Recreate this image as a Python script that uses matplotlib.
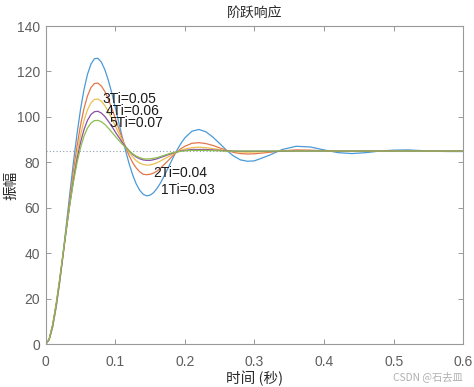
import numpy as np
import matplotlib
matplotlib.use('Agg')
import matplotlib.pyplot as plt

plt.rcParams['font.family'] = ['Liberation Sans', 'Noto Sans CJK SC', 'DejaVu Sans']

# sample times (s)
t = np.round(np.concatenate([np.arange(0, 0.2001, 0.005),
                             np.arange(0.21, 0.3001, 0.01),
                             np.arange(0.32, 0.6001, 0.02)]), 3)

# step responses
y_ti003 = [0, 2.0, 7.6, 16.3, 27.3, 40.0, 53.5, 67.2, 80.4, 92.5, 103.2, 112.0, 118.7, 123.2,
           125.6, 125.8, 124.1, 120.8, 116.1, 110.5, 104.2, 97.6, 91.1, 84.9, 79.3, 74.5, 70.6,
           67.8, 66.0, 65.3, 65.6, 66.7, 68.6, 71.0, 73.9, 77.0, 80.2, 83.3, 86.1, 88.7, 90.8,
           93.7, 94.5, 93.5, 91.2, 88.3, 85.3, 82.8, 81.1, 80.5, 80.7,
           83.0, 85.7, 87.1, 86.8, 85.5, 84.3, 83.9, 84.3, 85.0, 85.4, 85.5, 85.2, 84.9, 84.8, 84.8]
y_ti004 = [0, 2.1, 7.8, 16.5, 27.2, 39.3, 52.0, 64.5, 76.4, 87.1, 96.3, 103.7, 109.2, 112.9,
           114.7, 114.9, 113.6, 111.2, 107.8, 103.8, 99.4, 94.9, 90.6, 86.5, 82.9, 79.9, 77.6,
           75.9, 74.8, 74.6, 74.8, 75.3, 76.2, 77.5, 79.0, 80.5, 82.1, 83.6, 85.0, 86.2, 87.1,
           88.4, 88.7, 88.3, 87.5, 86.4, 85.3, 84.4, 83.9, 83.7, 83.8,
           84.4, 85.1, 85.5, 85.4, 85.1, 84.9, 84.9, 85.0, 85.0, 85.0, 85.0, 85.0, 85.0, 85.0, 85.0]
y_ti005 = [0, 2.2, 8.1, 16.8, 27.5, 39.3, 51.4, 63.1, 74.1, 83.8, 91.9, 98.4, 103.1, 106.2,
           107.7, 107.9, 106.9, 105.0, 102.4, 99.3, 96.1, 92.8, 89.7, 86.9, 84.4, 82.4, 80.8,
           79.7, 79.1, 78.8, 78.9, 79.3, 79.9, 80.6, 81.5, 82.3, 83.2, 84.0, 84.8, 85.4, 85.9,
           86.5, 86.7, 86.5, 86.1, 85.6, 85.2, 84.8, 84.6, 84.5, 84.6,
           84.8, 85.0, 85.1, 85.1, 85.0, 85.0, 85.0, 85.0, 85.0, 85.0, 85.0, 85.0, 85.0, 85.0, 85.0]
y_ti006 = [0, 2.3, 8.4, 17.3, 28.0, 39.6, 51.2, 62.4, 72.5, 81.4, 88.7, 94.4, 98.5, 101.1,
           102.3, 102.5, 101.7, 100.2, 98.1, 95.9, 93.4, 91.1, 88.8, 86.8, 85.1, 83.5, 82.4,
           81.6, 81.1, 80.9, 80.9, 81.2, 81.6, 82.2, 82.7, 83.3, 83.8, 84.3, 84.7, 85.1, 85.3,
           85.7, 85.7, 85.7, 85.5, 85.3, 85.1, 85.0, 84.9, 84.9, 84.9,
           84.9, 84.9, 85.0, 85.0, 85.0, 85.0, 85.0, 85.0, 85.0, 85.0, 85.0, 85.0, 85.0, 85.0, 85.0]
y_ti007 = [0, 2.4, 8.8, 17.9, 28.7, 40.1, 51.5, 62.1, 71.6, 79.8, 86.4, 91.5, 95.1, 97.3,
           98.4, 98.5, 97.9, 96.7, 95.1, 93.3, 91.5, 89.7, 88.0, 86.6, 85.1, 83.8, 82.8,
           82.1, 81.6, 81.5, 81.6, 81.8, 82.1, 82.6, 83.1, 83.6, 84.1, 84.4, 84.7, 85.0, 85.1,
           85.3, 85.3, 85.3, 85.2, 85.1, 85.0, 85.0, 85.0, 85.0, 85.0,
           85.0, 85.0, 85.0, 85.0, 85.0, 85.0, 85.0, 85.0, 85.0, 85.0, 85.0, 85.0, 85.0, 85.0, 85.0]
steady = 85

series = [y_ti003, y_ti004, y_ti005, y_ti006, y_ti007]
colors = ['#4a9ad8', '#e2774a', '#eebf4f', '#8b4fa6', '#8cbf4e']

labels = ['1Ti=0.03', '2Ti=0.04', '3Ti=0.05', '4Ti=0.06', '5Ti=0.07']
label_x = [0.165, 0.154, 0.082, 0.086, 0.091]
label_y = [67.9, 75.3, 107.7, 102.6, 97.4]

fig = plt.figure(figsize=(4.74, 3.87), dpi=100)
ax = fig.add_axes([0.0964, 0.1103, 0.881, 0.8225])

ax.axhline(steady, color='#8c9bb0', ls=(0, (1, 2)), lw=0.8, zorder=1)
for y, c in zip(series, colors):
    ax.plot(t, y, color=c, lw=0.9, zorder=2)

for s, x, y in zip(labels, label_x, label_y):
    ax.text(x, y, s, fontsize=10, color='#1a1a1a', ha='left', va='center', zorder=3)

ax.set_xlim(0, 0.6)
ax.set_ylim(0, 140)
ax.set_xticks([0, 0.1, 0.2, 0.3, 0.4, 0.5, 0.6])
ax.set_xticklabels(['0', '0.1', '0.2', '0.3', '0.4', '0.5', '0.6'])
ax.set_yticks(range(0, 141, 20))

for sp in ax.spines.values():
    sp.set_color('#999999')
    sp.set_linewidth(0.8)
ax.tick_params(direction='in', length=3.5, width=0.7, color='#999999',
               labelcolor='#5e5e5e', labelsize=10, top=True, right=True)
ax.tick_params(axis='x', pad=8)
ax.tick_params(axis='y', pad=4)

ax.set_title('阶跃响应', family=['Noto Sans CJK SC', 'DejaVu Sans'], fontsize=10,
             color='#2a2a2a', pad=6)
ax.set_xlabel('时间 (秒)', family=['Noto Sans CJK SC', 'DejaVu Sans'], fontsize=10.5,
              color='#2a2a2a', labelpad=1)
ax.set_ylabel('振幅', family=['Noto Sans CJK SC', 'DejaVu Sans'], fontsize=10.5,
              color='#2a2a2a')
ax.yaxis.set_label_coords(-0.066, 0.5)

fig.text(0.977, 0.028, 'CSDN @石去皿', family=['Noto Sans CJK SC', 'DejaVu Sans'],
         fontsize=7.4, color='#b0b0b0', ha='right', va='center')

fig.savefig('out.png', dpi=100)
